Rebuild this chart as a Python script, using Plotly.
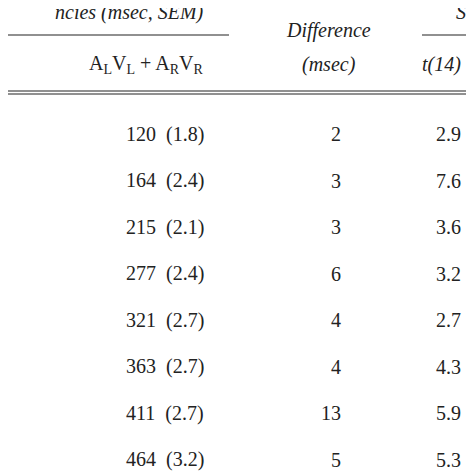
import plotly.graph_objects as go

means = ["120", "164", "215", "277", "321", "363", "411", "464"]
sems = ["1.8", "2.4", "2.1", "2.4", "2.7", "2.7", "2.7", "3.2"]
diffs = ["2", "3", "3", "6", "4", "4", "13", "5"]
tvals = ["2.9", "7.6", "3.6", "3.2", "2.7", "4.3", "5.9", "5.3"]

F = "Liberation Serif"
C = "#222"
S = 20
fig = go.Figure()
ys = [134 + 46.5 * i for i in range(len(means))]

def ann(x, y, t, anchor="center"):
    fig.add_annotation(x=x, y=y, text=t, showarrow=False, xanchor=anchor,
                       font=dict(family=F, size=S, color=C))

for i, y in enumerate(ys):
    ann(206, y, f"{means[i]}  ({sems[i]})", "right")
    ann(343, y, diffs[i], "right")
    ann(463, y, tvals[i], "right")

ann(206, 12, "<i>ncies (msec, SEM)</i>", "right")
ann(-4, 64, "<sub>R</sub>V<sub>L</sub>", "left")
ann(146, 64, "A<sub>L</sub>V<sub>L</sub> + A<sub>R</sub>V<sub>R</sub>")
ann(328, 30, "<i>Difference</i>")
ann(329, 64, "<i>(msec)</i>")
ann(420, 64, "<i>t(14)</i>", "left")
ann(454, 12, "<i>St</i>", "left")

for x0, x1 in [(0, 229), (422, 474)]:
    fig.add_shape(type="line", x0=x0, x1=x1, y0=35, y1=35, line=dict(color=C, width=1.2))
for y in [91, 94]:
    fig.add_shape(type="line", x0=0, x1=474, y0=y, y1=y, line=dict(color=C, width=1.2))

fig.update_layout(width=474, height=474, margin=dict(l=0, r=0, t=0, b=0),
                  paper_bgcolor="white", plot_bgcolor="white", showlegend=False,
                  xaxis=dict(range=[8, 482], visible=False),
                  yaxis=dict(range=[482, 8], visible=False))
fig.write_html("out.html")
